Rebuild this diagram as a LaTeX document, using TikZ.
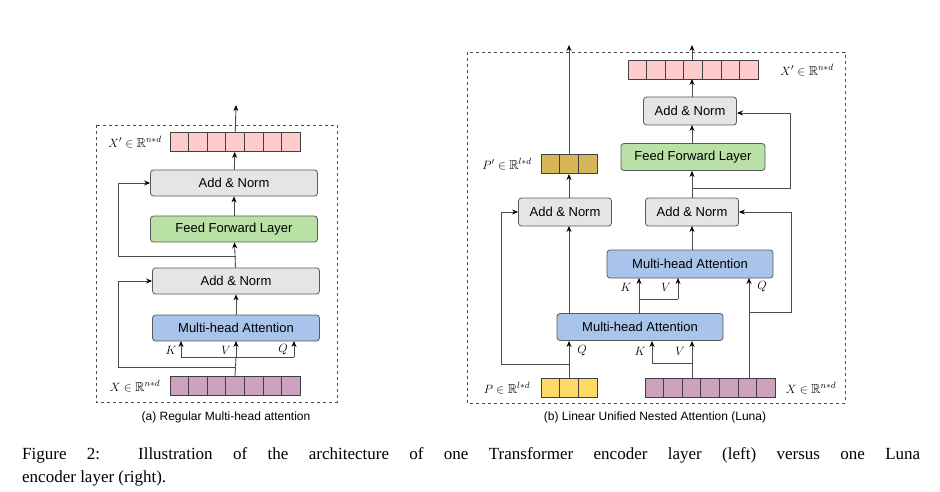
\documentclass[tikz,border=0pt]{standalone}
\usepackage{amssymb}
\usepackage{fontspec}
\setmainfont{Liberation Serif}
\setsansfont{Liberation Sans}
\usetikzlibrary{arrows.meta}
\begin{document}
\begin{tikzpicture}[x=1pt,y=-1pt,
 box/.style={draw=black!65,rounded corners=3pt,line width=0.8pt,font=\sffamily\fontsize{13}{15}\selectfont,inner sep=0pt},
 an/.style={box,fill=black!10},
 ff/.style={box,fill={rgb,255:red,185;green,224;blue,165}},
 mh/.style={box,fill={rgb,255:red,169;green,196;blue,235}},
 row/.style={draw=black!75,line width=0.8pt,inner sep=0pt,minimum height=19pt},
 lab/.style={font=\fontsize{13}{15}\selectfont,inner sep=1pt},
 ar/.style={draw=black!70,line width=0.9pt,-{Stealth[length=6pt,width=5pt,color=black]}},
 ln/.style={draw=black!70,line width=0.9pt},
 dbox/.style={draw=black!70,dashed,line width=0.6pt},
 cell/.style={draw=black!75,line width=0.8pt}]
\useasboundingbox (0,0) rectangle (940,492);
\definecolor{pinkc}{RGB}{255,204,204}
\definecolor{purc}{RGB}{205,162,190}
\definecolor{yelc}{RGB}{255,217,102}
\definecolor{goldc}{RGB}{214,182,86}
% ---------- left panel
\draw[dbox] (96,125) rectangle (337,402);
\node[row,fill=pinkc,minimum width=130pt] (xo) at (235,142) {};
\node[row,fill=purc,minimum width=130pt] (xi) at (235,386) {};
\node[an,minimum width=167pt,minimum height=26pt] (an2) at (234,183) {Add \& Norm};
\node[ff,minimum width=167pt,minimum height=26pt] (ff) at (234,229) {Feed Forward Layer};
\node[an,minimum width=167pt,minimum height=26pt] (an1) at (236,281) {Add \& Norm};
\node[mh,minimum width=167pt,minimum height=26pt] (mh) at (236,328) {Multi-head Attention};
\node[lab] (lxo) at (135,142) {$X'\in\mathbb{R}^{n*d}$};
\node[lab] (lxi) at (135,386) {$X\in\mathbb{R}^{n*d}$};
\node[lab] (lk) at (171,350) {$K$};
\node[lab] (lv) at (226,350) {$V$};
\node[lab] (lq) at (283,350) {$Q$};
\coordinate (lm) at (236,357);
\coordinate (lt) at (236,105);
\draw[ln] (xi.north) -- (lm);
\draw[ln] (181,357) -- (294,357);
\draw[ar] (181,357) -- (181,341);
\draw[ar] (lm) -- (236,341);
\draw[ar] (294,357) -- (294,341);
\draw[ar] (mh) -- (an1);
\draw[ar] (an1) -- (ff);
\draw[ar] (ff) -- (an2);
\draw[ar] (an2) -- (xo);
\draw[ar] (xo) -- (lt);
\draw[ar] (236,367) -| (118,281) -- (an1.west);
\draw[ar] (236,256) -| (118,183) -- (an2.west);
\node[font=\sffamily\fontsize{12}{14}\selectfont] (ca) at (226,417) {(a) Regular Multi-head attention};
% ---------- right panel
\draw[dbox] (467,52) rectangle (845,403);
\node[row,fill=pinkc,minimum width=130pt] (rxo) at (693,70) {};
\node[row,fill=purc,minimum width=130pt] (rxi) at (710,388) {};
\node[row,fill=yelc,minimum width=56pt] (p) at (569,388) {};
\node[row,fill=goldc,minimum width=56pt] (po) at (569,164) {};
\node[an,minimum width=93pt,minimum height=28pt] (ran2) at (690,111) {Add \& Norm};
\node[ff,minimum width=144pt,minimum height=27pt] (rff) at (693,157) {Feed Forward Layer};
\node[an,minimum width=93pt,minimum height=28pt] (ran1) at (692,212) {Add \& Norm};
\node[an,minimum width=93pt,minimum height=28pt] (lan) at (565,212) {Add \& Norm};
\node[mh,minimum width=166pt,minimum height=28pt] (umh) at (690,264) {Multi-head Attention};
\node[mh,minimum width=166pt,minimum height=27pt] (lmh) at (640,327) {Multi-head Attention};
\node[lab] at (807,70) {$X'\in\mathbb{R}^{n*d}$};
\node[lab] at (811,388) {$X\in\mathbb{R}^{n*d}$};
\node[lab] at (507,164) {$P'\in\mathbb{R}^{l*d}$};
\node[lab] at (507,388) {$P\in\mathbb{R}^{l*d}$};
\node[lab] at (582,351) {$Q$};
\node[lab] at (640,351) {$K$};
\node[lab] at (680,351) {$V$};
\node[lab] at (626,287) {$K$};
\node[lab] at (666,287) {$V$};
\node[lab] at (762,287) {$Q$};
\draw[ar] (692,61) -- (692,45);
\draw[ar] (569,155) -- (569,45);
\draw[ar] (569,198) -- (569,174);
\draw[ar] (569,314) -- (569,226);
\draw[ar] (569,379) -- (569,341);
\draw[ar] (569,364) -| (501,212) -- (lan.west);
\draw[ln] (692,379) -- (692,363);
\draw[ln] (652,363) -- (692,363);
\draw[ar] (652,363) -- (652,341);
\draw[ar] (692,363) -- (692,341);
\draw[ar] (749,379) -- (749,278);
\draw[ar] (749,312) -| (791,212) -- (ran1.east);
\draw[ln] (639,314) -- (639,299) -- (678,299);
\draw[ar] (639,299) -- (639,278);
\draw[ar] (678,299) -- (678,278);
\draw[ar] (692,250) -- (692,226);
\draw[ar] (692,198) -- (692,171);
\draw[ar] (692,188) -| (790,113) -- (737,113);
\draw[ar] (692,144) -- (692,125);
\draw[ar] (692,97) -- (692,79);
\node[font=\sffamily\fontsize{12}{14}\selectfont] (cb) at (655,417) {(b) Linear Unified Nested Attention (Luna)};
\node[anchor=west,inner sep=0pt,font=\fontsize{17}{20}\selectfont] (c1) at (22,455) {\hbox to 898pt{Figure 2: Illustration of the architecture of one Transformer encoder layer (left) versus one Luna}};
\node[anchor=west,inner sep=0pt,font=\fontsize{17}{20}\selectfont] (c2) at (22,478) {encoder layer (right).};
% cells
\foreach \x in {188.6,207.1,225.7,244.3,262.9,281.4}{\draw[cell] (\x,132.5) -- (\x,151.5); \draw[cell] (\x,376.5) -- (\x,395.5);}
\foreach \x in {646.6,665.1,683.7,702.3,720.9,739.4}{\draw[cell] (\x,60.5) -- (\x,79.5);}
\foreach \x in {663.6,682.1,700.7,719.3,737.9,756.4}{\draw[cell] (\x,378.5) -- (\x,397.5);}
\foreach \x in {559.7,578.3}{\draw[cell] (\x,378.5) -- (\x,397.5); \draw[cell] (\x,154.5) -- (\x,173.5);}
\end{tikzpicture}
\end{document}
